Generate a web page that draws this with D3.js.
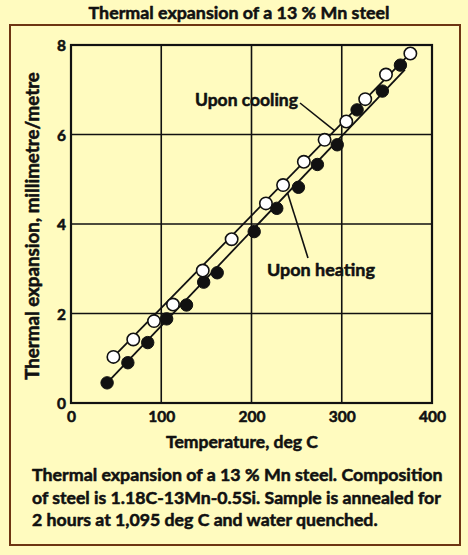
<!DOCTYPE html>
<html><head><meta charset="utf-8">
<script src="https://cdn.jsdelivr.net/npm/d3@7"></script>
<style>html,body{margin:0;padding:0;background:#fffbbf;} svg{display:block}</style>
</head><body><svg id="c" width="468" height="555"></svg>
<script>
// ---- data ----
const heatingTemp = [40, 63, 85, 106, 128, 147, 162, 203, 228, 252, 273, 295, 317, 345, 365];
const heatingExp  = [0.45, 0.90, 1.35, 1.88, 2.19, 2.70, 2.91, 3.83, 4.35, 4.82, 5.33, 5.77, 6.55, 6.97, 7.55];
const coolingTemp = [47, 69, 92, 113, 146, 178, 216, 235, 258, 281, 305, 326, 349, 376];
const coolingExp  = [1.03, 1.42, 1.83, 2.20, 2.96, 3.66, 4.46, 4.87, 5.39, 5.88, 6.29, 6.79, 7.34, 7.81];
const heatingLineTemp = [40, 370];
const heatingLineExp  = [0.45, 7.45];
const coolingLineTemp = [47, 378];
const coolingLineExp  = [1.03, 7.86];
const xTicks = [0, 100, 200, 300, 400];
const yTicks = [0, 2, 4, 6, 8];
const titleText = "Thermal expansion of a 13 % Mn steel";
const xLabel = "Temperature, deg C";
const yLabel = "Thermal expansion, millimetre/metre";
const captionLines = [
  "Thermal expansion of a 13 % Mn steel. Composition",
  "of steel is 1.18C-13Mn-0.5Si. Sample is annealed for",
  "2 hours at 1,095 deg C and water quenched."
];
const labelCooling = "Upon cooling";
const labelHeating = "Upon heating";

// ---- layout ----
const FONT = "Lato, 'Open Sans', sans-serif";
const WEIGHT = 700;
const INK = "#111";
const svg = d3.select("#c");
const bg = "#fffbbf";
svg.append("rect").attr("width", 468).attr("height", 555).attr("fill", bg);
svg.append("rect").attr("x", 10).attr("y", 25).attr("width", 450).attr("height", 520)
  .attr("fill", bg).attr("stroke", "#6e3512").attr("stroke-width", 2);

const x = d3.scaleLinear().domain([0, 400]).range([71, 432]);
const y = d3.scaleLinear().domain([0, 8]).range([403, 45]);

function heavy(sel) {
  return sel.attr("stroke", INK).attr("stroke-width", 0.55).attr("stroke-linejoin", "round");
}
function txt(parent, s, size, width) {
  const t = parent.append("text").attr("font-family", FONT).attr("font-weight", WEIGHT)
    .attr("font-size", size).attr("fill", INK).text(s);
  heavy(t);
  if (width) {
    const w = t.node().getComputedTextLength();
    t.attr("font-size", size * width / w);
  }
  return t;
}

// title
txt(svg, titleText, 16.5, 301).attr("x", 239).attr("y", 19).attr("text-anchor", "middle");

// gridlines & frame
const g = svg.append("g");
g.selectAll(".vg").data(xTicks.slice(1, -1)).join("line")
  .attr("x1", d => x(d)).attr("x2", d => x(d)).attr("y1", y(8)).attr("y2", y(0))
  .attr("stroke", INK).attr("stroke-width", 1.6);
g.selectAll(".hg").data(yTicks.slice(1, -1)).join("line")
  .attr("y1", d => y(d)).attr("y2", d => y(d)).attr("x1", x(0)).attr("x2", x(400))
  .attr("stroke", INK).attr("stroke-width", 1.6);
g.append("rect").attr("x", x(0)).attr("y", y(8)).attr("width", x(400) - x(0)).attr("height", y(0) - y(8))
  .attr("fill", "none").attr("stroke", INK).attr("stroke-width", 2.2);

// axes (labels only)
const xAxis = d3.axisBottom(x).tickValues(xTicks).tickSize(0).tickPadding(0).tickFormat(d3.format("d"));
const xa = svg.append("g").attr("transform", `translate(0,${y(0)})`).call(xAxis);
xa.select(".domain").remove();
heavy(xa.selectAll("text").attr("dy", null).attr("y", 19).attr("font-family", FONT)
  .attr("font-weight", WEIGHT).attr("font-size", 15.5).attr("fill", INK));
const yAxis = d3.axisLeft(y).tickValues(yTicks).tickSize(0).tickPadding(5).tickFormat(d3.format("d"));
const ya = svg.append("g").attr("transform", `translate(${x(0)},0)`).call(yAxis);
ya.select(".domain").remove();
heavy(ya.selectAll("text").attr("dy", "0.36em").attr("font-family", FONT)
  .attr("font-weight", WEIGHT).attr("font-size", 15.5).attr("fill", INK));

// axis titles
txt(svg, xLabel, 15.5, 152).attr("x", 242).attr("y", 448).attr("text-anchor", "middle");
txt(svg, yLabel, 16, 308).attr("transform", "translate(39,226) rotate(-90)").attr("text-anchor", "middle");

// lines
const line = d3.line().x(d => x(d[0])).y(d => y(d[1]));
const hl = heatingLineTemp.map((t, i) => [t, heatingLineExp[i]]);
const cl = coolingLineTemp.map((t, i) => [t, coolingLineExp[i]]);
svg.append("path").attr("d", line(hl)).attr("fill", "none").attr("stroke", INK).attr("stroke-width", 1.8);
svg.append("path").attr("d", line(cl)).attr("fill", "none").attr("stroke", INK).attr("stroke-width", 1.8);

// points
svg.selectAll(".hp").data(heatingTemp.map((t, i) => [t, heatingExp[i]])).join("circle")
  .attr("cx", d => x(d[0])).attr("cy", d => y(d[1])).attr("r", 6.2)
  .attr("fill", INK).attr("stroke", INK).attr("stroke-width", 1);
svg.selectAll(".cp").data(coolingTemp.map((t, i) => [t, coolingExp[i]])).join("circle")
  .attr("cx", d => x(d[0])).attr("cy", d => y(d[1])).attr("r", 6.2)
  .attr("fill", "#fff").attr("stroke", INK).attr("stroke-width", 1.6);

// annotations
function interp(ts, vs, t) { return vs[0] + (vs[1] - vs[0]) * (t - ts[0]) / (ts[1] - ts[0]); }
txt(svg, labelCooling, 16.5, 103).attr("x", 195).attr("y", 106);
const cEndT = 292;
svg.append("line").attr("x1", 300).attr("y1", 103)
  .attr("x2", x(cEndT)).attr("y2", y(interp(coolingLineTemp, coolingLineExp, cEndT)))
  .attr("stroke", INK).attr("stroke-width", 1.6);
txt(svg, labelHeating, 16.5, 108).attr("x", 267).attr("y", 276);
const hEndT = 240;
svg.append("line").attr("x1", 308).attr("y1", 258)
  .attr("x2", x(hEndT)).attr("y2", y(interp(heatingLineTemp, heatingLineExp, hEndT)))
  .attr("stroke", INK).attr("stroke-width", 1.6);

// caption
const capY = [481, 503.5, 526];
const capW = [411, 409, 346];
captionLines.forEach((s, i) => txt(svg, s, 17, capW[i]).attr("x", 32).attr("y", capY[i]));
</script></body></html>
